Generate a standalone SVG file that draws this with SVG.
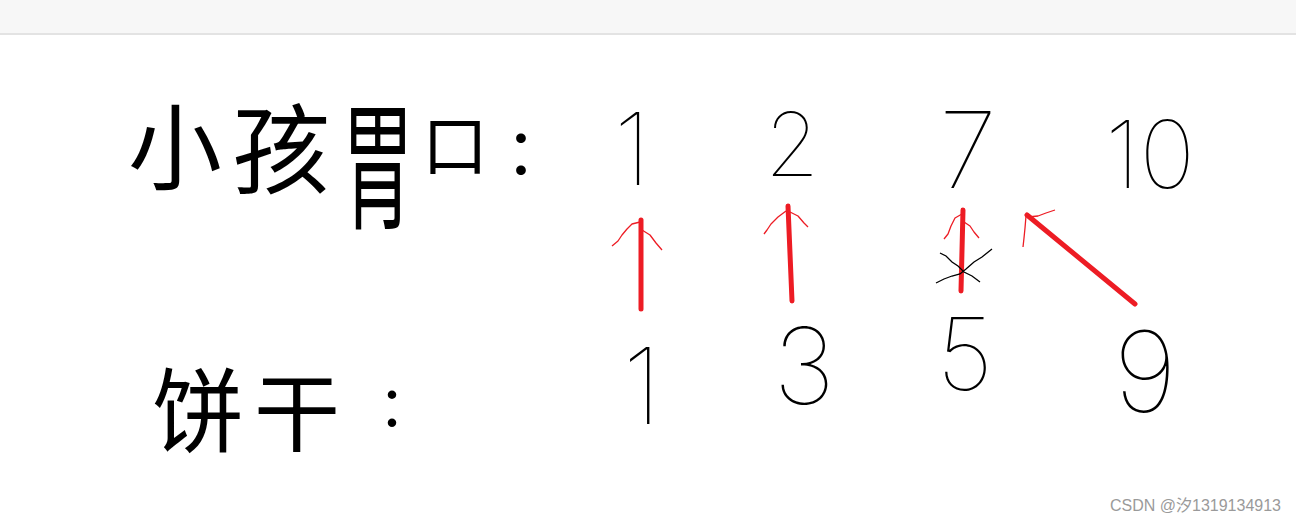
<svg xmlns="http://www.w3.org/2000/svg" width="1296" height="523" viewBox="0 0 1296 523">
  <style>
    .cjk { font-family: "Noto Sans CJK SC", "Noto Sans", sans-serif; fill: #000; }
    .num { font-family: "Inter", "Liberation Sans", sans-serif; font-weight: 100; fill: #000; }
    .shaft { stroke: #ed1c24; stroke-width: 5; stroke-linecap: round; fill: none; }
    .head { stroke: #ed1c24; stroke-width: 1.3; fill: none; stroke-linejoin: round; }
    .cross { stroke: #000; stroke-width: 1.3; fill: none; }
  </style>
  <rect x="0" y="0" width="1296" height="523" fill="#ffffff"/>
  <rect x="0" y="0" width="1296" height="33" fill="#f7f7f7"/>
  <rect x="0" y="33" width="1296" height="2" fill="#e3e3e3"/>

  <g id="label-appetite">
    <text class="cjk" font-size="94" x="128" y="183">小</text>
    <text class="cjk" font-size="98" x="232" y="186">孩</text>
    <text class="cjk" font-size="80" transform="translate(342,218) scale(0.9,1.75)">胃</text>
    <text class="cjk" font-size="66" x="422" y="170">口</text>
    <text class="cjk" font-size="64" x="505" y="174">：</text>
  </g>
  <g id="label-cookie">
    <text class="cjk" font-size="92" x="152" y="445">饼</text>
    <text class="cjk" font-size="86" x="254" y="445">干</text>
    <text class="cjk" font-size="56" x="378" y="426">：</text>
  </g>

  <g id="appetite-values">
    <text class="num" font-size="100" x="632" y="185" text-anchor="middle">1</text>
    <text class="num" font-size="88" x="792" y="176" text-anchor="middle">2</text>
    <text class="num" font-size="106" x="968" y="188" text-anchor="middle">7</text>
    <text class="num" font-size="94" x="1150" y="188" text-anchor="middle">10</text>
  </g>
  <g id="cookie-values">
    <text class="num" font-size="106" x="642" y="424" text-anchor="middle">1</text>
    <text class="num" font-size="106" x="804" y="404" text-anchor="middle">3</text>
    <text class="num" font-size="100" x="965" y="390" text-anchor="middle">5</text>
    <text class="num" font-size="112" x="1145" y="412" text-anchor="middle">9</text>
  </g>

  <g id="connectors">
    <g id="arrow-1">
      <line class="shaft" x1="641" y1="220" x2="641" y2="309"/>
      <polyline class="head" points="640,222 632,224 627,229 622,235 618,241 612,246"/>
      <polyline class="head" points="642,230 650,235 656,243 662,250"/>
    </g>
    <g id="arrow-2">
      <line class="shaft" x1="788" y1="206" x2="792" y2="301"/>
      <polyline class="head" points="786,211 778,217 771,224 767,230 764,234"/>
      <polyline class="head" points="790,212 798,216 804,223 808,227"/>
    </g>
    <g id="arrow-3">
      <line class="shaft" x1="963" y1="210" x2="961" y2="291"/>
      <polyline class="head" points="962,214 955,218 951,226 948,234 944,239"/>
      <polyline class="head" points="964,222 970,226 974,232 979,238"/>
      <polyline class="cross" points="940,253 946,256 952,262 958,266 964,272 972,276 980,282"/>
      <polyline class="cross" points="936,283 944,279 952,276 960,274 966,269 974,262 982,257 992,249"/>
    </g>
    <g id="arrow-4">
      <line class="shaft" x1="1027" y1="215" x2="1135" y2="304" stroke-width="5.5"/>
      <polyline class="head" points="1026,216 1025,228 1024,238 1023,247"/>
      <polyline class="head" points="1028,217 1038,216 1046,213 1055,210"/>
    </g>
  </g>

  <text x="1281" y="511" font-family="Liberation Sans, Noto Sans CJK SC, sans-serif" font-size="16" fill="#9a9a9a" text-anchor="end">CSDN @汐1319134913</text>
</svg>
